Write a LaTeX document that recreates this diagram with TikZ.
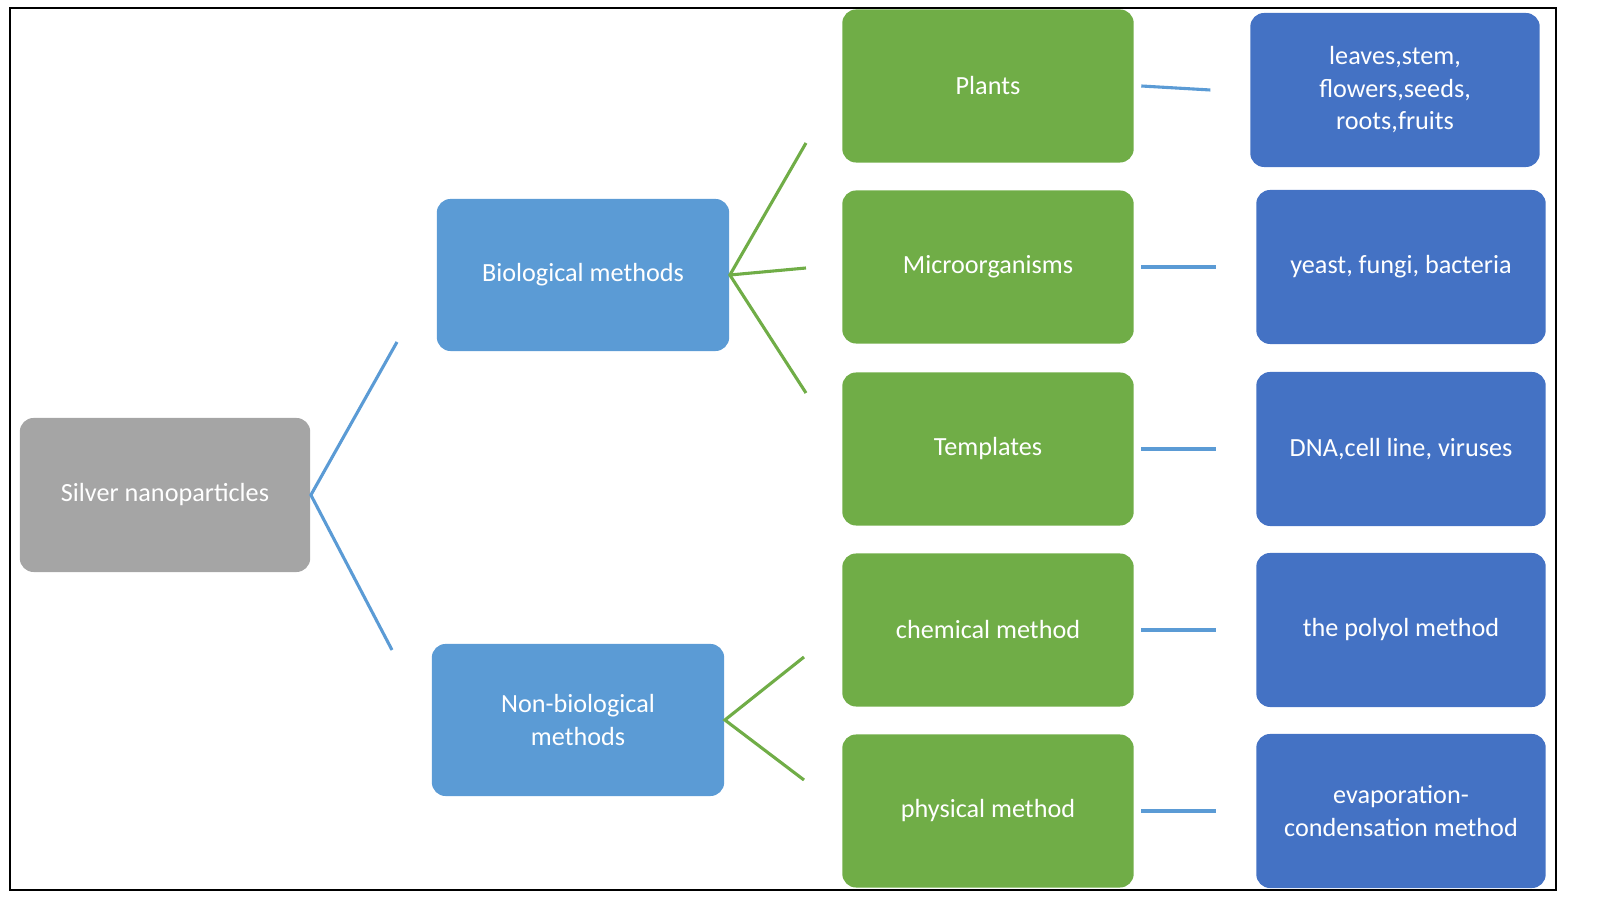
\documentclass[tikz,border=0pt]{standalone}
\usepackage{fontspec}
\setmainfont{Carlito}
\usetikzlibrary{positioning}
\definecolor{greybox}{HTML}{A5A5A5}
\definecolor{lightblue}{HTML}{5B9BD5}
\definecolor{leafgreen}{HTML}{70AD47}
\definecolor{darkblue}{HTML}{4472C4}

\tikzset{
  box/.style={rounded corners=4pt, text=white, align=center, inner sep=0pt,
    font=\fontsize{7.6}{9.4}\selectfont},
  root/.style={box, fill=greybox, minimum width=2.96cm, minimum height=1.57cm},
  method/.style={box, fill=lightblue, minimum width=2.98cm, minimum height=1.55cm},
  source/.style={box, fill=leafgreen, minimum width=2.97cm, minimum height=1.56cm},
  example/.style={box, fill=darkblue, minimum width=2.95cm, minimum height=1.57cm},
  blueline/.style={lightblue, line width=0.9pt},
  greenline/.style={leafgreen, line width=0.9pt}
}

\begin{document}
\begin{tikzpicture}[x=0.0102cm,y=-0.0102cm]
    \useasboundingbox (0,0) rectangle (1601,917);
    \draw[line width=0.8pt] (10,8) rectangle (1556,890);

    \node[root] (silver) at (165,495) {Silver nanoparticles};

    \node[method] (bio) at (583,275) {Biological methods};
    \node[method] (nonbio) at (578,720) {Non-biological\\methods};

    \node[source] (plants) at (988,86) {Plants};
    \node[source] (micro) at (988,267) {Microorganisms};
    \node[source] (templ) at (988,449) {Templates};
    \node[source] (chem) at (988,630) {chemical method};
    \node[source] (phys) at (988,811) {physical method};

    \node[example] (leaves) at (1395,90) {leaves,stem,\\flowers,seeds,\\roots,fruits};
    \node[example] (yeast) at (1401,267) {yeast, fungi, bacteria};
    \node[example] (dna) at (1401,449) {DNA,cell line, viruses};
    \node[example] (polyol) at (1401,630) {the polyol method};
    \node[example] (evap) at (1401,811) {evaporation-\\condensation method};

    % free ends of the branches
    \coordinate (s1) at (397,342);
    \coordinate (s2) at (392,650);
    \coordinate (b1) at (806,143);
    \coordinate (b2) at (806,268);
    \coordinate (b3) at (806,393);
    \coordinate (n1) at (804,657);
    \coordinate (n2) at (804,780);

    \draw[blueline] (s1) -- (silver.east) -- (s2);
    \draw[greenline] (b1) -- (bio.east) -- (b3);
    \draw[greenline] (bio.east) -- (b2);
    \draw[greenline] (n1) -- (nonbio.east) -- (n2);

    \foreach \src/\dst in {plants/leaves,micro/yeast,templ/dna,chem/polyol,phys/evap}
        \draw[blueline] ([xshift=2pt]\src.east) -- ([xshift=-0.4cm]\dst.west);
\end{tikzpicture}
\end{document}
